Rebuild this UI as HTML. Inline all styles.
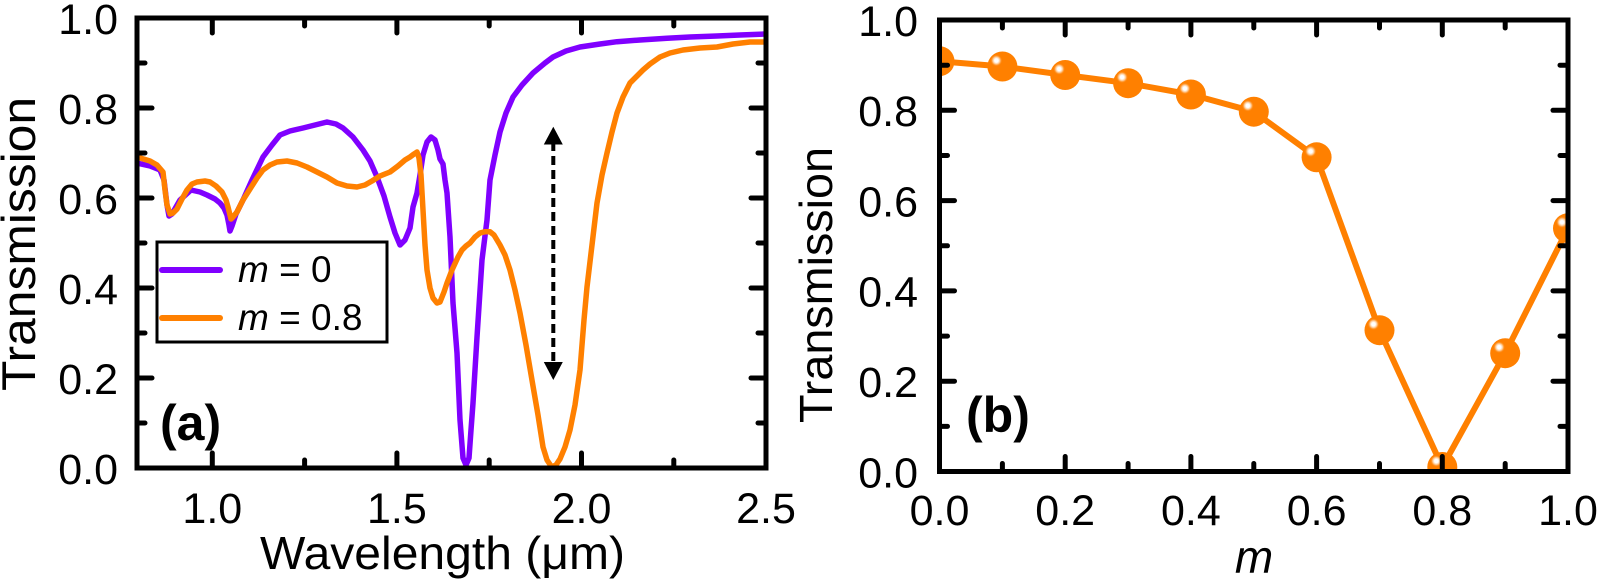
<!DOCTYPE html>
<html>
<head>
<meta charset="utf-8">
<style>
  html, body { margin:0; padding:0; background:#fff; }
  svg { display:block; }
  text { font-family: "Liberation Sans", Arial, sans-serif; fill:#000; }
</style>
</head>
<body>
<svg width="1600" height="582" viewBox="0 0 1600 582" xmlns="http://www.w3.org/2000/svg">
  <defs>
    <clipPath id="clipA"><rect x="137" y="18" width="629" height="450"/></clipPath>
    <clipPath id="clipB"><rect x="939.5" y="20" width="628.5" height="451.5"/></clipPath>
    <radialGradient id="hl" cx="0.5" cy="0.5" r="0.5">
      <stop offset="0" stop-color="#ffffff"/>
      <stop offset="0.3" stop-color="#ffffff"/>
      <stop offset="0.6" stop-color="#ffc68c"/>
      <stop offset="1" stop-color="#ff8000" stop-opacity="0"/>
    </radialGradient>
  </defs>

  <!-- ================= Panel (a) ================= -->
  <g clip-path="url(#clipA)" fill="none" stroke-linejoin="round" stroke-linecap="round" stroke-width="5.5">
    <polyline stroke="#8000FF" points="137,163 150,166 160,170 164,180 167,205 169,216 172,214 180,200 191,190 200,192 207,195 215,199 220,203 224,208 227,215 229,225 230,231 232,226 236,214 243,200 252,180 263,157 272,145 280,135 290,131 303,128 315,125 327,122 336,124 343,128 353,137 363,150 370,161 377,177 384,196 390,217 395,233 400,245 405,240 410,228 413,207 417,193 420,175 423,155 427,142 431,137 435,140 438,150 440,159 443,164 445,180 447,193 450,237 453,303 457,353 460,420 463,458 466,465 469,458 471,430 473,403 477,337 482,260 487,220 490,180 495,155 500,132 506,113 513,97 522,85 533,73 545,63 553,57 566,51 580,47 600,44 617,41.7 640,40 667,38.3 690,37 717,36 740,35 766,34"/>
    <polyline stroke="#FF8000" points="137,157 150,161 157,165 163,172 165,190 167,205 170,214 173,213 177,209 182,199 187,190 192,184 197,182 205,181 210,182 216,186 222,192 226,200 228,207 231,219 233,217 237,212 243,200 250,189 257,178 263,170 270,165 277,162 287,161 297,163 307,167 317,172 327,177 337,183 347,186 357,187 365,185 372,181 380,176 390,172 398,166 405,160 410,157 414,154 417,152 419,158 421,175 423,210 425,245 427,270 430,288 433,298 437,303 440,302 444,292 447,283 452,270 458,257 462,250 466,246 470,243 475,237 480,233 485,231.7 490,231.7 494,235 500,245 505,255 510,270 515,290 520,313 526,345 533,386 538,415 543,447 547,460 551.7,467 556,465 560,459 565,447 570,430 575,405 580,370 584,320 587,287 592,245 597,203 602,175 607,153 612,132 617,113 623,97 630,83 637,76 643,70 650,64 660,57 670,53 683,50 700,48 717,47 733,44 750,42 766,42"/>
  </g>

  <!-- dashed arrow -->
  <line x1="553.3" y1="142" x2="553.3" y2="364" stroke="#000" stroke-width="4" stroke-dasharray="9,5"/>
  <polygon points="553.3,126.7 543.8,144.5 562.8,144.5" fill="#000"/>
  <polygon points="553.3,380 543.8,362 562.8,362" fill="#000"/>

  <!-- legend -->
  <rect x="157" y="242" width="230" height="100" fill="#fff" stroke="#000" stroke-width="3"/>
  <line x1="162" y1="270" x2="220" y2="270" stroke="#8000FF" stroke-width="6" stroke-linecap="round"/>
  <line x1="162" y1="318" x2="220" y2="318" stroke="#FF8000" stroke-width="6" stroke-linecap="round"/>
  <text x="238" y="282" font-size="37"><tspan font-style="italic">m</tspan> = 0</text>
  <text x="238" y="330" font-size="37"><tspan font-style="italic">m</tspan> = 0.8</text>

  <!-- (a) label -->
  <text x="160" y="440" font-size="50" font-weight="bold">(a)</text>

  <!-- ticks panel a -->
  <g stroke="#000" stroke-width="5" stroke-linecap="round">
    <line x1="137" y1="423" x2="145" y2="423"/>
    <line x1="137" y1="378" x2="152" y2="378"/>
    <line x1="137" y1="333" x2="145" y2="333"/>
    <line x1="137" y1="288" x2="152" y2="288"/>
    <line x1="137" y1="243" x2="145" y2="243"/>
    <line x1="137" y1="198" x2="152" y2="198"/>
    <line x1="137" y1="153" x2="145" y2="153"/>
    <line x1="137" y1="108" x2="152" y2="108"/>
    <line x1="137" y1="63" x2="145" y2="63"/>
    <line x1="766" y1="423" x2="758" y2="423"/>
    <line x1="766" y1="378" x2="751" y2="378"/>
    <line x1="766" y1="333" x2="758" y2="333"/>
    <line x1="766" y1="288" x2="751" y2="288"/>
    <line x1="766" y1="243" x2="758" y2="243"/>
    <line x1="766" y1="198" x2="751" y2="198"/>
    <line x1="766" y1="153" x2="758" y2="153"/>
    <line x1="766" y1="108" x2="751" y2="108"/>
    <line x1="766" y1="63" x2="758" y2="63"/>
    <line x1="212.3" y1="468" x2="212.3" y2="453"/>
    <line x1="304.6" y1="468" x2="304.6" y2="460"/>
    <line x1="396.9" y1="468" x2="396.9" y2="453"/>
    <line x1="489.2" y1="468" x2="489.2" y2="460"/>
    <line x1="581.5" y1="468" x2="581.5" y2="453"/>
    <line x1="673.8" y1="468" x2="673.8" y2="460"/>
    <line x1="212.3" y1="18" x2="212.3" y2="33"/>
    <line x1="304.6" y1="18" x2="304.6" y2="26"/>
    <line x1="396.9" y1="18" x2="396.9" y2="33"/>
    <line x1="489.2" y1="18" x2="489.2" y2="26"/>
    <line x1="581.5" y1="18" x2="581.5" y2="33"/>
    <line x1="673.8" y1="18" x2="673.8" y2="26"/>
  </g>
  <rect x="137" y="18" width="629" height="450" fill="none" stroke="#000" stroke-width="5"/>

  <!-- tick labels panel a -->
  <g font-size="43" text-anchor="end">
    <text x="118" y="484">0.0</text>
    <text x="118" y="394">0.2</text>
    <text x="118" y="304">0.4</text>
    <text x="118" y="214">0.6</text>
    <text x="118" y="124">0.8</text>
    <text x="118" y="34">1.0</text>
  </g>
  <g font-size="43" text-anchor="middle">
    <text x="212.3" y="523">1.0</text>
    <text x="396.9" y="523">1.5</text>
    <text x="581.5" y="523">2.0</text>
    <text x="766" y="523">2.5</text>
  </g>
  <text x="442.5" y="569" font-size="46" text-anchor="middle" textLength="365" lengthAdjust="spacingAndGlyphs">Wavelength (μm)</text>
  <text transform="translate(35,244) rotate(-90)" font-size="47" text-anchor="middle" textLength="294" lengthAdjust="spacingAndGlyphs">Transmission</text>

  <!-- ================= Panel (b) ================= -->
  <g clip-path="url(#clipB)">
    <polyline fill="none" stroke="#FF8000" stroke-width="6" stroke-linejoin="round"
      points="939.5,61.2 1002.4,66.5 1065.2,75 1128.1,83.2 1190.9,94.5 1253.8,111.7 1316.6,157.3 1379.5,330.2 1442.3,467 1505.2,353.2 1568,228.2"/>
    <g fill="#FF8000">
      <circle cx="939.5" cy="61.2" r="15"/>
      <circle cx="1002.4" cy="66.5" r="15"/>
      <circle cx="1065.2" cy="75" r="15"/>
      <circle cx="1128.1" cy="83.2" r="15"/>
      <circle cx="1190.9" cy="94.5" r="15"/>
      <circle cx="1253.8" cy="111.7" r="15"/>
      <circle cx="1316.6" cy="157.3" r="15"/>
      <circle cx="1379.5" cy="330.2" r="15"/>
      <circle cx="1442.3" cy="467" r="15"/>
      <circle cx="1505.2" cy="353.2" r="15"/>
      <circle cx="1568" cy="228.2" r="15"/>
    </g>
    <g fill="url(#hl)">
      <circle cx="933.5" cy="55.2" r="6"/>
      <circle cx="996.4" cy="60.5" r="6"/>
      <circle cx="1059.2" cy="69" r="6"/>
      <circle cx="1122.1" cy="77.2" r="6"/>
      <circle cx="1184.9" cy="88.5" r="6"/>
      <circle cx="1247.8" cy="105.7" r="6"/>
      <circle cx="1310.6" cy="151.3" r="6"/>
      <circle cx="1373.5" cy="324.2" r="6"/>
      <circle cx="1436.3" cy="461" r="6"/>
      <circle cx="1499.2" cy="347.2" r="6"/>
      <circle cx="1562" cy="222.2" r="6"/>
    </g>
  </g>

  <!-- (b) label -->
  <text x="966" y="432" font-size="50" font-weight="bold">(b)</text>

  <!-- ticks panel b -->
  <g stroke="#000" stroke-width="5" stroke-linecap="round">
    <line x1="939.5" y1="426.4" x2="947.5" y2="426.4"/>
    <line x1="939.5" y1="381.2" x2="954.5" y2="381.2"/>
    <line x1="939.5" y1="336.1" x2="947.5" y2="336.1"/>
    <line x1="939.5" y1="290.9" x2="954.5" y2="290.9"/>
    <line x1="939.5" y1="245.8" x2="947.5" y2="245.8"/>
    <line x1="939.5" y1="200.6" x2="954.5" y2="200.6"/>
    <line x1="939.5" y1="155.5" x2="947.5" y2="155.5"/>
    <line x1="939.5" y1="110.3" x2="954.5" y2="110.3"/>
    <line x1="939.5" y1="65.2" x2="947.5" y2="65.2"/>
    <line x1="1568" y1="426.4" x2="1560" y2="426.4"/>
    <line x1="1568" y1="381.2" x2="1553" y2="381.2"/>
    <line x1="1568" y1="336.1" x2="1560" y2="336.1"/>
    <line x1="1568" y1="290.9" x2="1553" y2="290.9"/>
    <line x1="1568" y1="245.8" x2="1560" y2="245.8"/>
    <line x1="1568" y1="200.6" x2="1553" y2="200.6"/>
    <line x1="1568" y1="155.5" x2="1560" y2="155.5"/>
    <line x1="1568" y1="110.3" x2="1553" y2="110.3"/>
    <line x1="1568" y1="65.2" x2="1560" y2="65.2"/>
    <line x1="1002.4" y1="471.5" x2="1002.4" y2="463.5"/>
    <line x1="1065.2" y1="471.5" x2="1065.2" y2="456.5"/>
    <line x1="1128.1" y1="471.5" x2="1128.1" y2="463.5"/>
    <line x1="1190.9" y1="471.5" x2="1190.9" y2="456.5"/>
    <line x1="1253.8" y1="471.5" x2="1253.8" y2="463.5"/>
    <line x1="1316.6" y1="471.5" x2="1316.6" y2="456.5"/>
    <line x1="1379.5" y1="471.5" x2="1379.5" y2="463.5"/>
    <line x1="1442.3" y1="471.5" x2="1442.3" y2="456.5"/>
    <line x1="1505.2" y1="471.5" x2="1505.2" y2="463.5"/>
    <line x1="1002.4" y1="20" x2="1002.4" y2="28"/>
    <line x1="1065.2" y1="20" x2="1065.2" y2="35"/>
    <line x1="1128.1" y1="20" x2="1128.1" y2="28"/>
    <line x1="1190.9" y1="20" x2="1190.9" y2="35"/>
    <line x1="1253.8" y1="20" x2="1253.8" y2="28"/>
    <line x1="1316.6" y1="20" x2="1316.6" y2="35"/>
    <line x1="1379.5" y1="20" x2="1379.5" y2="28"/>
    <line x1="1442.3" y1="20" x2="1442.3" y2="35"/>
    <line x1="1505.2" y1="20" x2="1505.2" y2="28"/>
  </g>
  <rect x="939.5" y="20" width="628.5" height="451.5" fill="none" stroke="#000" stroke-width="5"/>

  <!-- tick labels panel b -->
  <g font-size="43" text-anchor="end">
    <text x="918" y="487.5">0.0</text>
    <text x="918" y="397">0.2</text>
    <text x="918" y="306.5">0.4</text>
    <text x="918" y="216.5">0.6</text>
    <text x="918" y="126">0.8</text>
    <text x="918" y="36">1.0</text>
  </g>
  <g font-size="43" text-anchor="middle">
    <text x="939.5" y="525">0.0</text>
    <text x="1065.2" y="525">0.2</text>
    <text x="1190.9" y="525">0.4</text>
    <text x="1316.6" y="525">0.6</text>
    <text x="1442.3" y="525">0.8</text>
    <text x="1568" y="525">1.0</text>
  </g>
  <text x="1254" y="573" font-size="46" font-style="italic" text-anchor="middle">m</text>
  <text transform="translate(832,285) rotate(-90)" font-size="46" text-anchor="middle" textLength="276" lengthAdjust="spacingAndGlyphs">Transmission</text>
</svg>
</body>
</html>
